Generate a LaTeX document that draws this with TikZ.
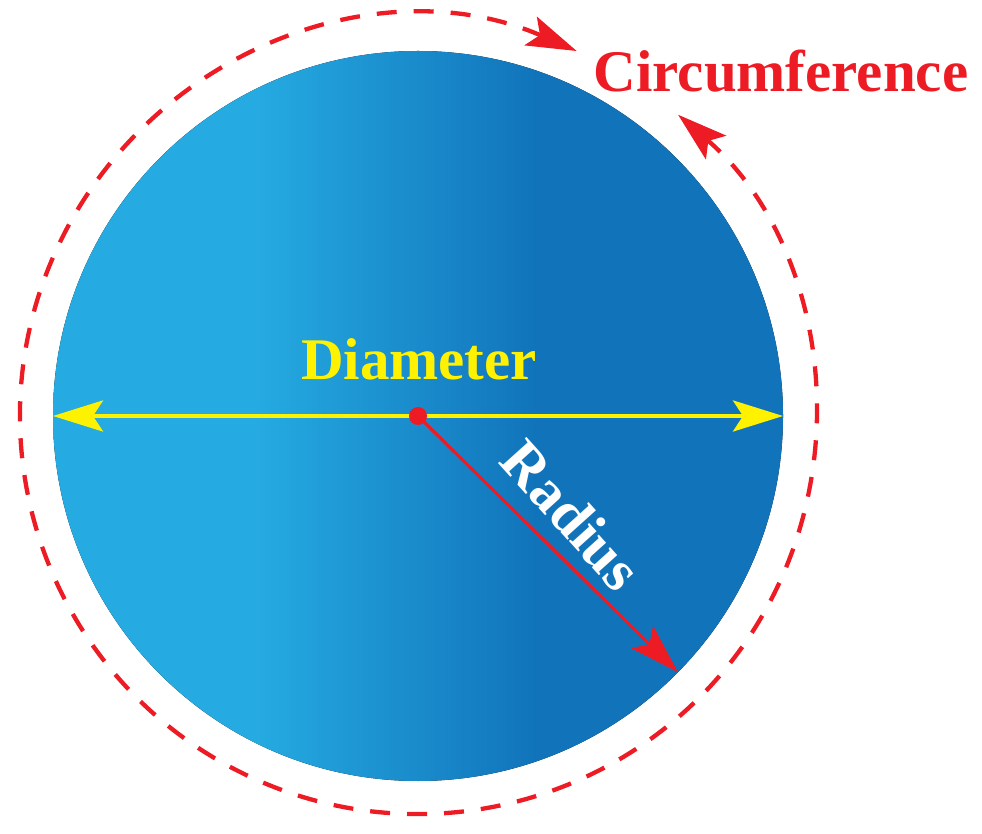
\documentclass[tikz,border=0pt]{standalone}
\usepackage{fontspec}
\setmainfont{Liberation Serif}
\usetikzlibrary{arrows.meta}
\definecolor{lightblue}{HTML}{25AAE1}
\definecolor{darkblue}{HTML}{1174BB}
\definecolor{cred}{HTML}{ED1C24}
\definecolor{cyel}{HTML}{FFF200}
\pgfdeclarehorizontalshading{diskshade}{100bp}{color(0bp)=(lightblue); color(39bp)=(lightblue); color(58bp)=(darkblue); color(100bp)=(darkblue)}
\begin{document}
\begin{tikzpicture}[x=1pt,y=1pt,
  bigtip/.style={-{Stealth[length=50pt,width=31pt,inset=10pt]}},
  bothtip/.style={{Stealth[length=50pt,width=31pt,inset=10pt]}-{Stealth[length=50pt,width=31pt,inset=10pt]}},
  lbl/.style={font=\bfseries\fontsize{59}{60}\selectfont, inner sep=0pt}]
\useasboundingbox (0,0) rectangle (982,833);
\coordinate (O) at (418,417);
\coordinate (L) at (53,417);
\coordinate (R) at (783,417);
\coordinate (E) at (677.9,160.7);
\fill[shading=diskshade] (O) circle[radius=365];
\draw[cred, line width=4.3pt, dash pattern=on 20pt off 17pt, bothtip] ([shift={(66.5:398)}]O) arc[start angle=66.5, end angle=409.2, radius=398];
\draw[cyel, line width=4pt, bothtip] (L) -- (R);
\draw[cred, line width=3.2pt, bigtip] (O) -- (E);
\fill[cred] (O) circle[radius=9];
\node[lbl, text=cred, anchor=base] (circ) at (781,741) {Circumference};
\node[lbl, text=cyel, anchor=base] (diam) at (419,453) {Diameter};
\node[lbl, text=white, rotate=-48] (rad) at (572,318) {Radius};
\end{tikzpicture}
\end{document}
